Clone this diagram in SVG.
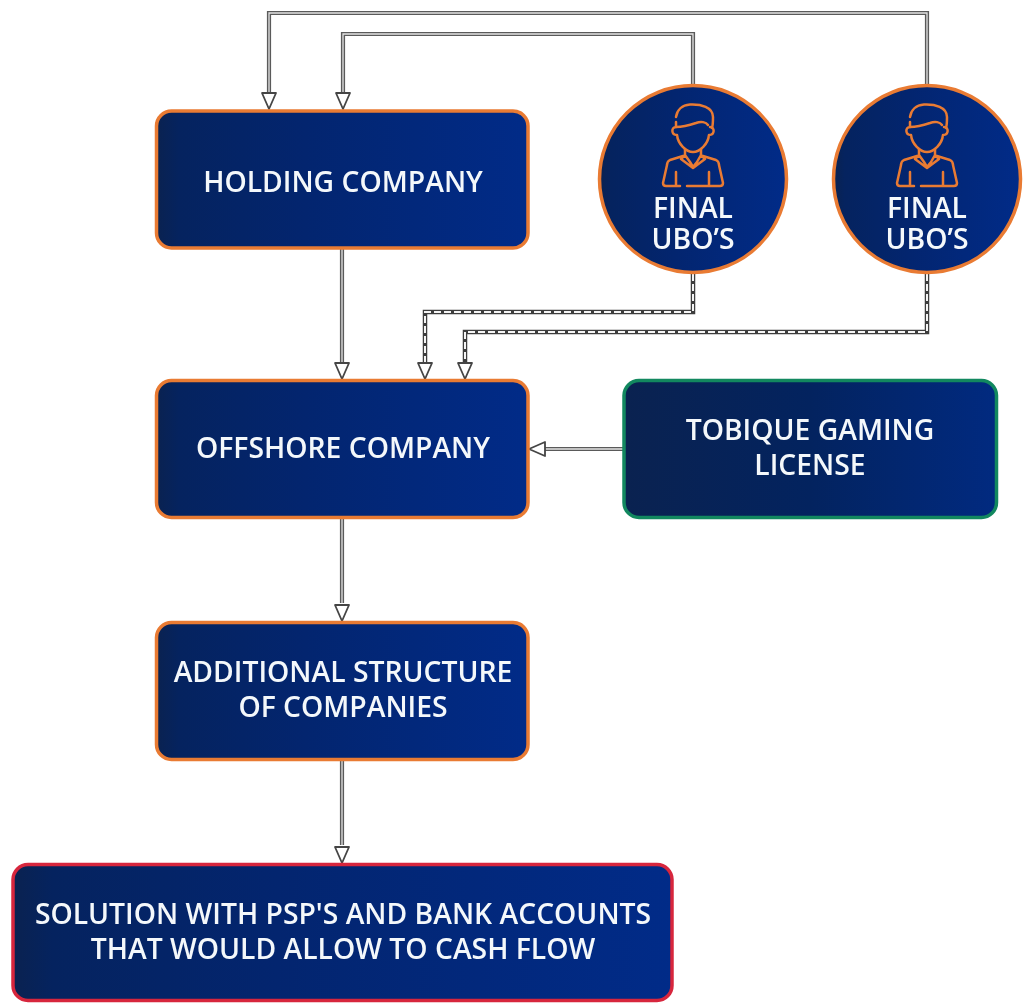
<svg xmlns="http://www.w3.org/2000/svg" width="1024" height="1005" viewBox="0 0 1024 1005">
<style>
.box{stroke-width:3.5}
.o{stroke:#e97b33}.g{stroke:#12885f}.r{stroke:#d7263d}
text{font-family:"Open Sans","Noto Sans","Liberation Sans",sans-serif;font-size:28.3px;font-weight:600;fill:#f4f8fb;text-anchor:middle}
.w1{fill:none;stroke:#5a5a5a;stroke-width:4.200}
.w2{fill:none;stroke:#e4e4e4;stroke-width:1.300}
.c1{fill:none;stroke:#3d3d3d;stroke-width:4.500}
.c2{fill:none;stroke:#f5f5f5;stroke-width:2;stroke-dasharray:7 3}
.head{fill:#fff;stroke:#444;stroke-width:1.800;stroke-linejoin:round}
.ic{fill:none;stroke:#e97b33;stroke-width:2.500;stroke-linecap:round;stroke-linejoin:round}
</style>
<defs>
<filter id="soft" x="-5%" y="-5%" width="110%" height="110%"><feGaussianBlur stdDeviation="0.5"/></filter>
<linearGradient id="bg" x1="0" y1="0" x2="1" y2="0"><stop offset="0" stop-color="#0a2250"/><stop offset=".06" stop-color="#05235f"/><stop offset=".4" stop-color="#03256f"/><stop offset="1" stop-color="#012b88"/></linearGradient>
<linearGradient id="bg2" x1="0" y1="0" x2="1" y2="0"><stop offset="0" stop-color="#0a2250"/><stop offset=".5" stop-color="#03235f"/><stop offset="1" stop-color="#012a80"/></linearGradient>
<polygon id="ah" class="head" points="-7,-16 7,-16 0,0"/>
<g id="person">
<path class="ic" d="M-17,-43 C-16,-50 -11,-55 -3,-55.500 C8,-56 20,-53 20,-43 C20,-39 20,-35 19,-32"/>
<path class="ic" d="M-17,-33 C-10,-33 -3,-35 3,-37 C8,-39 13,-38 15,-35"/>
<path class="ic" d="M-17,-38 L-17,-33 C-22,-33 -22,-25 -16,-25 C-15,-16 -7,-8 0,-8 C7,-8 15,-16 16,-25 C22,-25 22,-33 17,-33"/>
<path class="ic" d="M-8,-11 L-8,-5 L-3,2 L0,7 L4,2 L8,-5 L8,-11 M-8,-5 L-12,-1 L0,8 L12,-1 L8,-5"/>
<path class="ic" d="M-10,-4 L-23,0 C-25,1 -26,3 -26,5 L-30,23 C-30,25 -29,26 -27,26 L-13,26 M-6,26 L27,26 C29,26 30,25 30,23 L26,5 C26,3 25,1 23,0 L10,-4 M-17,12 L-17,25 M16,12 L16,25"/>
</g>
</defs>
<rect width="1024" height="1005" fill="#fff"/>
<g id="connectors">
<g filter="url(#soft)">
<path class="w1" d="M927,85V13H269V92"/><path class="w2" d="M927,85V13H269V92"/>
<path class="w1" d="M693,85V34H343V92"/><path class="w2" d="M693,85V34H343V92"/>
<path class="w1" d="M342,248V362"/><path class="w2" d="M342,248V362"/>
<path class="w1" d="M342,517V603"/><path class="w2" d="M342,517V603"/>
<path class="w1" d="M342,759V845"/><path class="w2" d="M342,759V845"/>
<path class="w1" d="M624,449H545"/><path class="w2" d="M624,449H545"/>
<path class="c1" d="M693,274V312H425V362"/><path class="c2" d="M693,274V312H425V362"/>
<path class="c1" d="M927,274V332H465V362"/><path class="c2" d="M927,274V332H465V362"/>
<use href="#ah" x="269" y="109"/>
<use href="#ah" x="343" y="109"/>
<use href="#ah" x="342" y="379"/>
<use href="#ah" x="425" y="379"/>
<use href="#ah" x="465" y="379"/>
<use href="#ah" x="342" y="621"/>
<use href="#ah" x="342" y="863"/>
<use href="#ah" transform="translate(529,449) rotate(90)"/>
</g>
</g>
<g id="holding"><rect class="box o" x="156.500" y="111" width="371.500" height="137" rx="15" fill="url(#bg)"/><text x="343" y="192">HOLDING COMPANY</text></g>
<g id="offshore"><rect class="box o" x="156.500" y="380.500" width="371.500" height="137" rx="15" fill="url(#bg)"/><text x="343" y="458">OFFSHORE COMPANY</text></g>
<g id="license"><rect class="box g" x="624" y="380.500" width="372.500" height="137" rx="15" fill="url(#bg2)"/><text x="810" y="440">TOBIQUE GAMING<tspan x="810" dy="35">LICENSE</tspan></text></g>
<g id="additional"><rect class="box o" x="156.500" y="622.500" width="371.500" height="137" rx="15" fill="url(#bg)"/><text x="343" y="682">ADDITIONAL STRUCTURE<tspan x="343" dy="35">OF COMPANIES</tspan></text></g>
<g id="solution"><rect class="box r" x="13" y="864.500" width="659" height="136" rx="15" fill="url(#bg)"/><text x="343" y="924">SOLUTION WITH PSP'S AND BANK ACCOUNTS<tspan x="343" dy="35">THAT WOULD ALLOW TO CASH FLOW</tspan></text></g>
<g id="ubo1"><circle class="box o" cx="693" cy="179" r="93.500" fill="url(#bg)"/><use href="#person" x="693" y="160"/><text x="693" y="218">FINAL<tspan x="693" dy="31">UBO’S</tspan></text></g>
<g id="ubo2"><circle class="box o" cx="927" cy="179" r="93.500" fill="url(#bg)"/><use href="#person" x="927" y="160"/><text x="927" y="218">FINAL<tspan x="927" dy="31">UBO’S</tspan></text></g>
</svg>
